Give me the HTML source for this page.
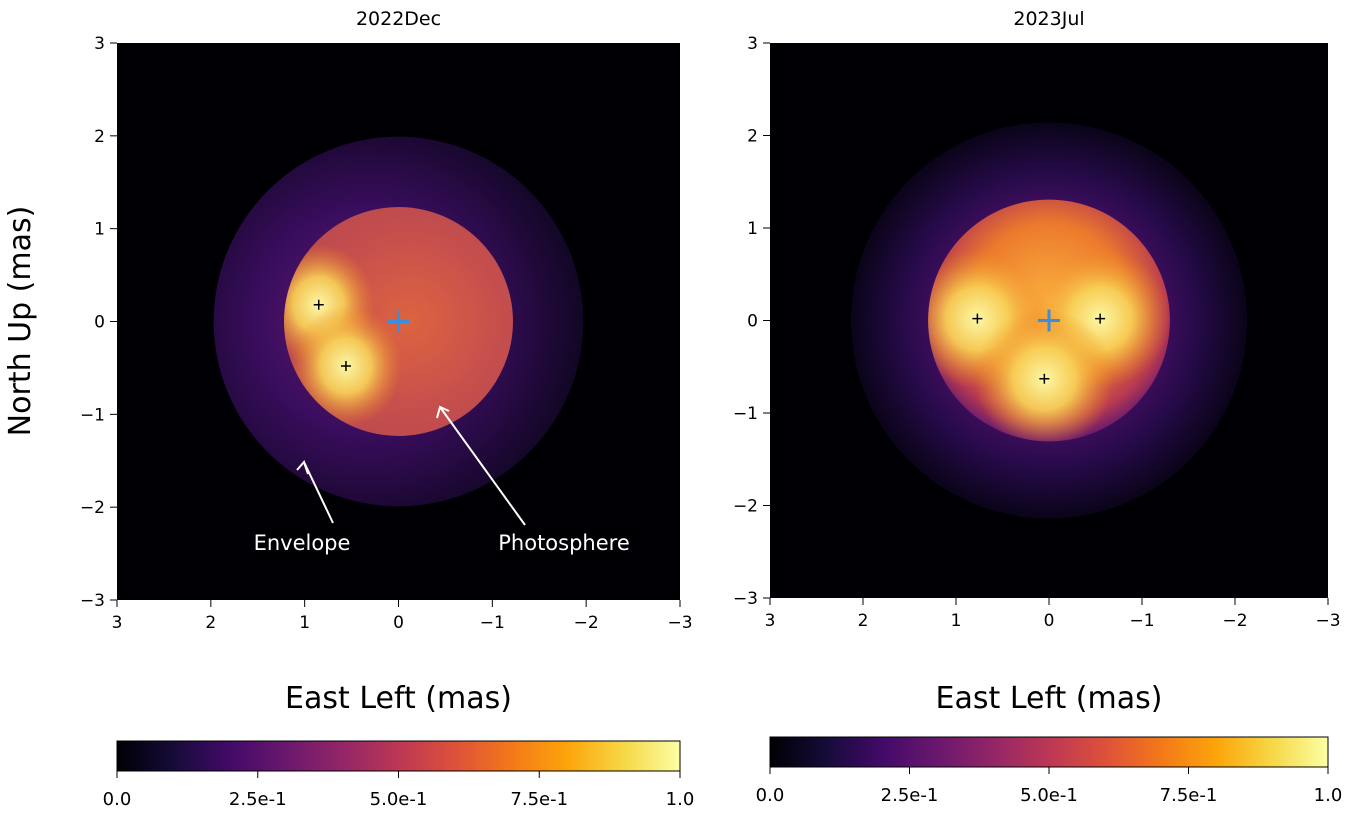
<!DOCTYPE html>
<html><head><meta charset="utf-8"><style>
body{margin:0;background:#fff;font-family:"Liberation Sans",sans-serif}
svg text{font-family:"DejaVu Sans","Liberation Sans",sans-serif}
</style></head><body>
<svg id="fig" width="1345" height="819" viewBox="0 0 1345 819" xmlns="http://www.w3.org/2000/svg">
<defs>
<linearGradient id="inferno" x1="0" x2="1" y1="0" y2="0">
<stop offset="0" stop-color="#000004"/><stop offset="0.1" stop-color="#160b39"/><stop offset="0.2" stop-color="#420a68"/><stop offset="0.3" stop-color="#6a176e"/><stop offset="0.4" stop-color="#932667"/><stop offset="0.5" stop-color="#bc3754"/><stop offset="0.6" stop-color="#dd513a"/><stop offset="0.7" stop-color="#f37819"/><stop offset="0.8" stop-color="#fca50a"/><stop offset="0.9" stop-color="#f6d746"/><stop offset="1" stop-color="#fcffa4"/>
</linearGradient>
<radialGradient id="envL" cx="0.42" cy="0.5" r="0.6">
<stop offset="0" stop-color="#6a1a70"/><stop offset="0.5" stop-color="#3a0d5e"/><stop offset="1" stop-color="#0e0620"/>
</radialGradient>
<radialGradient id="envR" cx="0.5" cy="0.5" r="0.5">
<stop offset="0.5" stop-color="#4a0f66"/><stop offset="0.75" stop-color="#250a48"/><stop offset="1" stop-color="#0a0418"/>
</radialGradient>
<radialGradient id="photL" cx="0.55" cy="0.5" r="0.6">
<stop offset="0" stop-color="#dc6440"/><stop offset="0.6" stop-color="#c8504c"/><stop offset="1" stop-color="#b84850"/>
</radialGradient>
<radialGradient id="photR" cx="0.5" cy="0.42" r="0.58">
<stop offset="0" stop-color="#fab040"/><stop offset="0.55" stop-color="#ec7a2c"/><stop offset="0.85" stop-color="#b83a50"/><stop offset="1" stop-color="#6a1a6e"/>
</radialGradient>
<radialGradient id="spot"><stop offset="0" stop-color="#fcf8a8"/><stop offset="0.45" stop-color="#f8d458" stop-opacity="0.9"/><stop offset="1" stop-color="#f08a20" stop-opacity="0"/></radialGradient>
<clipPath id="cpL"><circle id="cpLc"/></clipPath>
<clipPath id="cpR"><circle id="cpRc"/></clipPath>
</defs>
<g id="root"></g>
</svg>
<script>
const ticks=[3,2,1,0,-1,-2,-3];
const tickLabels=["3","2","1","0","\u22121","\u22122","\u22123"];
const cbTicks=[0,0.25,0.5,0.75,1];
const cbLabels=["0.0","2.5e-1","5.0e-1","7.5e-1","1.0"];
const titles=["2022Dec","2023Jul"];
const envRadius=[1.97,2.13];
const photRadius=[1.22,1.3];
const spotsL=[[0.85,0.18],[0.56,-0.48]];
const spotsR=[[0.77,0.02],[-0.55,0.02],[0.05,-0.63]];
const NS="http://www.w3.org/2000/svg";
const root=document.getElementById('root');
function el(t,a,p){const e=document.createElementNS(NS,t);for(const k in a)e.setAttribute(k,a[k]);(p||root).appendChild(e);return e;}
const panels=[{x0:117,x1:680,y0:43,y1:600,cb:[741,771]},{x0:770,x1:1328,y0:43,y1:598,cb:[737,767]}];
panels.forEach((P,i)=>{
 const sx=v=>P.x0+(3-v)/6*(P.x1-P.x0);
 const sy=v=>P.y0+(3-v)/6*(P.y1-P.y0);
 const k=(P.x1-P.x0)/6;
 const g=el('g',{});
 
 
 const bg=el('rect',{x:P.x0,y:P.y0,width:P.x1-P.x0,height:P.y1-P.y0,fill:'#000004'},g);
 
 const env=el('circle',{cx:sx(0),cy:sy(0),r:envRadius[i]*k,fill:i?'url(#envR)':'url(#envL)'},g);
 
 const cp=document.getElementById(i?'cpRc':'cpLc');
 cp.setAttribute('cx',sx(0));cp.setAttribute('cy',sy(0));cp.setAttribute('r',photRadius[i]*k);
 const ph=el('circle',{cx:sx(0),cy:sy(0),r:photRadius[i]*k,fill:i?'url(#photR)':'url(#photL)'},g);
 
 const sg=el('g',{'clip-path':i?'url(#cpR)':'url(#cpL)'},g);
 const spots=i?spotsR:spotsL;
 spots.forEach(s=>{
  const b=el('ellipse',{cx:sx(s[0]),cy:sy(s[1]),rx:(i?0.75:0.6)*k,ry:(i?0.75:0.65)*k,fill:'url(#spot)'},sg);
  
 });
 spots.forEach(s=>{
  const m=el('path',{d:`M${sx(s[0])-5},${sy(s[1])}h10M${sx(s[0])},${sy(s[1])-5}v10`,stroke:'#000',"stroke-width":1.5},g);
  
 });
 const c=el('path',{d:`M${sx(0)-11},${sy(0)}h22M${sx(0)},${sy(0)-11}v22`,stroke:'#3a8ee0',"stroke-width":3},g);
 
 ticks.forEach((t,j)=>{
  el('line',{x1:sx(t),x2:sx(t),y1:P.y1,y2:P.y1+7,stroke:'#000'},g);
  const tx=el('text',{x:sx(t),y:P.y1+28,'text-anchor':'middle','font-size':17},g);tx.textContent=tickLabels[j];
  
  el('line',{x1:P.x0-7,x2:P.x0,y1:sy(t),y2:sy(t),stroke:'#000'},g);
  const ty=el('text',{x:P.x0-12,y:sy(t)+6,'text-anchor':'end','font-size':17},g);ty.textContent=tickLabels[j];
  
 });
 const ti=el('text',{x:(P.x0+P.x1)/2,y:25,'text-anchor':'middle','font-size':19},g);ti.textContent=titles[i];
 
 const xl=el('text',{x:(P.x0+P.x1)/2,y:708,'text-anchor':'middle','font-size':30},g);xl.textContent='East Left (mas)';
 
 const cb=el('rect',{x:P.x0,y:P.cb[0],width:P.x1-P.x0,height:P.cb[1]-P.cb[0],fill:'url(#inferno)',stroke:'#000'},g);
 
 cbTicks.forEach((t,j)=>{
  const x=P.x0+t*(P.x1-P.x0);
  el('line',{x1:x,x2:x,y1:P.cb[1],y2:P.cb[1]+7,stroke:'#000'},g);
  const tl=el('text',{x:x,y:P.cb[1]+34,'text-anchor':'middle','font-size':18},g);tl.textContent=cbLabels[j];
  
 });
});
const yl=el('text',{x:30,y:321,'text-anchor':'middle','font-size':30,transform:'rotate(-90 30 321)'});yl.textContent='North Up (mas)';

el('path',{d:'M333,523L304,462M297,470L304,462L308,474',stroke:'#fff','stroke-width':2,fill:'none'});
el('path',{d:'M525,525L440,407M437,418L440,407L449,411',stroke:'#fff','stroke-width':2,fill:'none'});
const a1=el('text',{x:302,y:550,'text-anchor':'middle','font-size':21,fill:'#fff'});a1.textContent='Envelope';

const a2=el('text',{x:564,y:550,'text-anchor':'middle','font-size':21,fill:'#fff'});a2.textContent='Photosphere';

</script>
</body></html>
